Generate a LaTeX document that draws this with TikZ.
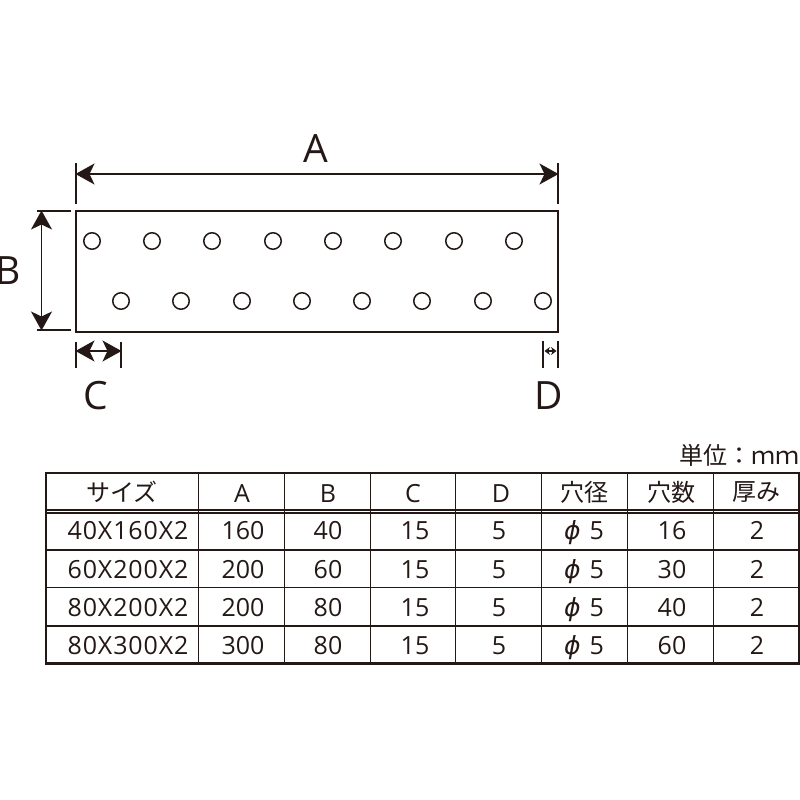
\documentclass[tikz,border=0pt]{standalone}
\usepackage{fontspec}
\setmainfont{Open Sans}
\newfontfamily\cjk{Noto Sans CJK JP}
\newfontfamily\phifont{DejaVu Sans}
\usetikzlibrary{arrows.meta}
\definecolor{ink}{HTML}{231815}
\tikzset{
  x=1pt,y=-1pt,
  line/.style={draw=ink,line width=1.8pt},
  hole/.style={circle,draw=ink,line width=1.5pt,minimum size=16.5pt,inner sep=0pt},
  dimlabel/.style={text=ink,font=\fontsize{39}{39}\selectfont,inner sep=0pt},
  cell/.style={text=ink,font=\fontsize{25}{25}\selectfont,inner sep=0pt,anchor=base},
  sizecell/.style={cell,font=\fontsize{25}{25}\selectfont\addfontfeature{LetterSpace=3.5}},
  jcell/.style={text=ink,font=\cjk\fontsize{24}{25}\selectfont,inner sep=0pt,anchor=center},
  dimarrow/.style={draw=ink,line width=1.5pt,{Stealth[length=19pt,width=21pt,inset=5pt]}-{Stealth[length=19pt,width=21pt,inset=5pt]},shorten <=-0.5pt,shorten >=-0.5pt},
  tinyarrow/.style={draw=ink,line width=1.4pt,{Stealth[length=5.5pt,width=8pt]}-{Stealth[length=5.5pt,width=8pt]},shorten <=1.5pt,shorten >=1.5pt},
  frame/.style={draw=ink,line width=2.6pt},
  rule/.style={draw=ink,line width=1.9pt},
}
\newcommand{\phifive}{{\phifont\itshape ϕ}\hspace{9pt}5}
\begin{document}
\begin{tikzpicture}
\useasboundingbox (0,0) rectangle (800,800);
% plate
\draw[line] (76,211) rectangle (558,332);
\foreach \n/\hx in {1/92,2/152,3/212,4/273,5/333,6/393,7/454,8/514}
  \node[hole] (top\n) at (\hx,241) {};
\foreach \n/\hx in {1/121,2/181,3/242,4/302,5/362,6/422,7/483,8/543}
  \node[hole] (bot\n) at (\hx,301) {};
% dimension A
\coordinate (a1) at (76,174); \coordinate (a2) at (558,174);
\draw[line] (76,163) -- (76,204);
\draw[line] (558,163) -- (558,204);
\draw[dimarrow] (a1) -- (a2);
\node[dimlabel] (la) at (315.5,149) {A};
% dimension B
\coordinate (b1) at (41.5,211); \coordinate (b2) at (41.5,330);
\draw[line] (37,211) -- (71,211);
\draw[line] (37,330) -- (71,330);
\draw[dimarrow] (b1) -- (b2);
\node[dimlabel,anchor=east] (lb) at (21,271) {B};
% dimension C
\coordinate (c1) at (76,351); \coordinate (c2) at (121,351);
\draw[line] (76,342) -- (76,368);
\draw[line] (121,342) -- (121,368);
\draw[dimarrow] (c1) -- (c2);
\node[dimlabel] (lc) at (96,396) {C};
% dimension D
\coordinate (d1) at (543,351); \coordinate (d2) at (558,351);
\draw[line] (543,341) -- (543,368);
\draw[line] (558,341) -- (558,368);
\draw[tinyarrow] (d1) -- (d2);
\node[dimlabel] (ld) at (549,396) {D};
% unit
\node[text=ink,font=\cjk\fontsize{24}{24}\selectfont,inner sep=0pt,anchor=east] (unit) at (800,455) {単位：ｍｍ};
% table
\foreach \lx in {198.5,284.5,370.5,455.5,541.5,627.5,713.5}
  \draw[rule] (\lx,473) -- (\lx,663.5);
\foreach \ly in {550,587.5,626}
  \draw[rule] (46,\ly) -- (799,\ly);
\draw[rule] (46,510) -- (799,510);
\draw[rule] (46,513) -- (799,513);
\draw[frame] (46,473) rectangle (799,663.5);
% header
\node[jcell] (h1) at (122,492) {サイズ};
\node[cell] (h2) at (242,502) {A};
\node[cell] (h3) at (328,502) {B};
\node[cell] (h4) at (413,502) {C};
\node[cell] (h5) at (501,502) {D};
\node[jcell] (h6) at (584,492) {穴径};
\node[jcell] (h7) at (671,492) {穴数};
\node[jcell] (h8) at (756,492) {厚み};
% rows
\foreach \r/\ry/\sz/\va/\vb/\vh in {
  1/539.5/40X160X2/160/40/16,
  2/578/60X200X2/200/60/30,
  3/616/80X200X2/200/80/40,
  4/654.5/80X300X2/300/80/60}{
  \node[sizecell] (r\r c1) at (128,\ry) {\sz};
  \node[cell] (r\r c2) at (243,\ry) {\va};
  \node[cell] (r\r c3) at (328,\ry) {\vb};
  \node[cell] (r\r c4) at (415,\ry) {15};
  \node[cell] (r\r c5) at (499,\ry) {5};
  \node[cell] (r\r c6) at (584,\ry) {\phifive};
  \node[cell] (r\r c7) at (672,\ry) {\vh};
  \node[cell] (r\r c8) at (757,\ry) {2};
}
\end{tikzpicture}
\end{document}
